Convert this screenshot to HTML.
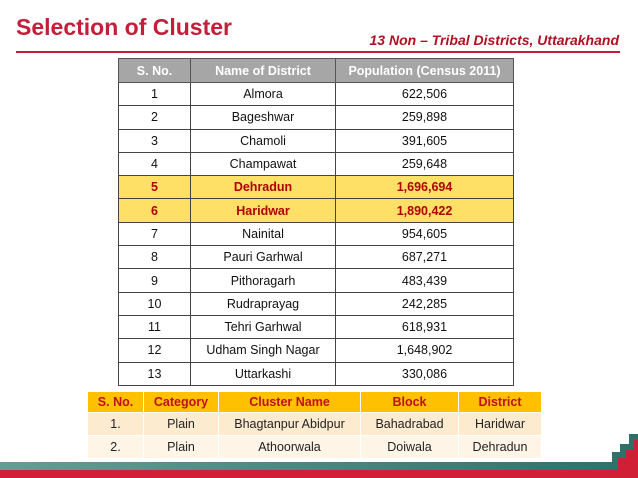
<!DOCTYPE html>
<html><head><meta charset="utf-8"><style>
body{margin:0;width:638px;height:478px;overflow:hidden;background:#fff;position:relative;font-family:"Liberation Sans",sans-serif}
.t{position:absolute}
table{border-collapse:collapse;position:absolute;table-layout:fixed}
#main{left:118px;top:58px;width:395px}
#main td,#main th{border:1px solid #444;text-align:center;font-size:12.5px;color:#111;padding:0;height:22.3px}
#main th{background:#a6a6a6;color:#fff;font-weight:bold;height:23px;border-color:#555}
#main tr.hl td{background:#ffe066;color:#b00000;font-weight:bold}
#clu{left:87px;top:391px;width:454px}
#clu td,#clu th{text-align:center;font-size:12.5px;padding:0;border:1px solid #fff}
#clu th{background:#ffc000;color:#c0101a;font-weight:bold;height:20px}
#clu td{height:22px;color:#222}
#clu tr.r1 td{background:#fdebd0}
#clu tr.r2 td{background:#fef5e6}
</style></head><body>
<div class="t" style="left:16px;top:14px;font-size:23px;font-weight:bold;color:#c41e3a">Selection of Cluster</div>
<div class="t" style="right:19px;top:32px;font-size:14px;font-weight:bold;font-style:italic;color:#b01020">13 Non – Tribal Districts, Uttarakhand</div>
<div class="t" style="left:16px;top:51px;width:604px;height:2px;background:#c41e3a"></div>
<table id="main">
<colgroup><col style="width:72px"><col style="width:145px"><col style="width:178px"></colgroup>
<tr><th>S. No.</th><th>Name of District</th><th>Population (Census 2011)</th></tr>
<tr><td>1</td><td>Almora</td><td>622,506</td></tr>
<tr><td>2</td><td>Bageshwar</td><td>259,898</td></tr>
<tr><td>3</td><td>Chamoli</td><td>391,605</td></tr>
<tr><td>4</td><td>Champawat</td><td>259,648</td></tr>
<tr class="hl"><td>5</td><td>Dehradun</td><td>1,696,694</td></tr>
<tr class="hl"><td>6</td><td>Haridwar</td><td>1,890,422</td></tr>
<tr><td>7</td><td>Nainital</td><td>954,605</td></tr>
<tr><td>8</td><td>Pauri Garhwal</td><td>687,271</td></tr>
<tr><td>9</td><td>Pithoragarh</td><td>483,439</td></tr>
<tr><td>10</td><td>Rudraprayag</td><td>242,285</td></tr>
<tr><td>11</td><td>Tehri Garhwal</td><td>618,931</td></tr>
<tr><td>12</td><td>Udham Singh Nagar</td><td>1,648,902</td></tr>
<tr><td>13</td><td>Uttarkashi</td><td>330,086</td></tr>
</table>
<table id="clu">
<colgroup><col style="width:56px"><col style="width:75px"><col style="width:142px"><col style="width:98px"><col style="width:83px"></colgroup>
<tr><th>S. No.</th><th>Category</th><th>Cluster Name</th><th>Block</th><th>District</th></tr>
<tr class="r1"><td>1.</td><td>Plain</td><td>Bhagtanpur Abidpur</td><td>Bahadrabad</td><td>Haridwar</td></tr>
<tr class="r2"><td>2.</td><td>Plain</td><td>Athoorwala</td><td>Doiwala</td><td>Dehradun</td></tr>
</table>
<svg class="t" style="left:0;top:0" width="638" height="478">
<defs><linearGradient id="g" x1="0" x2="1"><stop offset="0" stop-color="#6a9a94"/><stop offset="1" stop-color="#2e7068"/></linearGradient></defs>
<polygon fill="url(#g)" points="0,462 612,462 612,452 620,452 620,444 629,444 629,434 638,434 638,478 0,478"/>
<polygon fill="#d11f35" points="0,470 618,470 618,458 626,458 626,450 634,450 634,440 638,440 638,478 0,478"/>
</svg>
</body></html>
